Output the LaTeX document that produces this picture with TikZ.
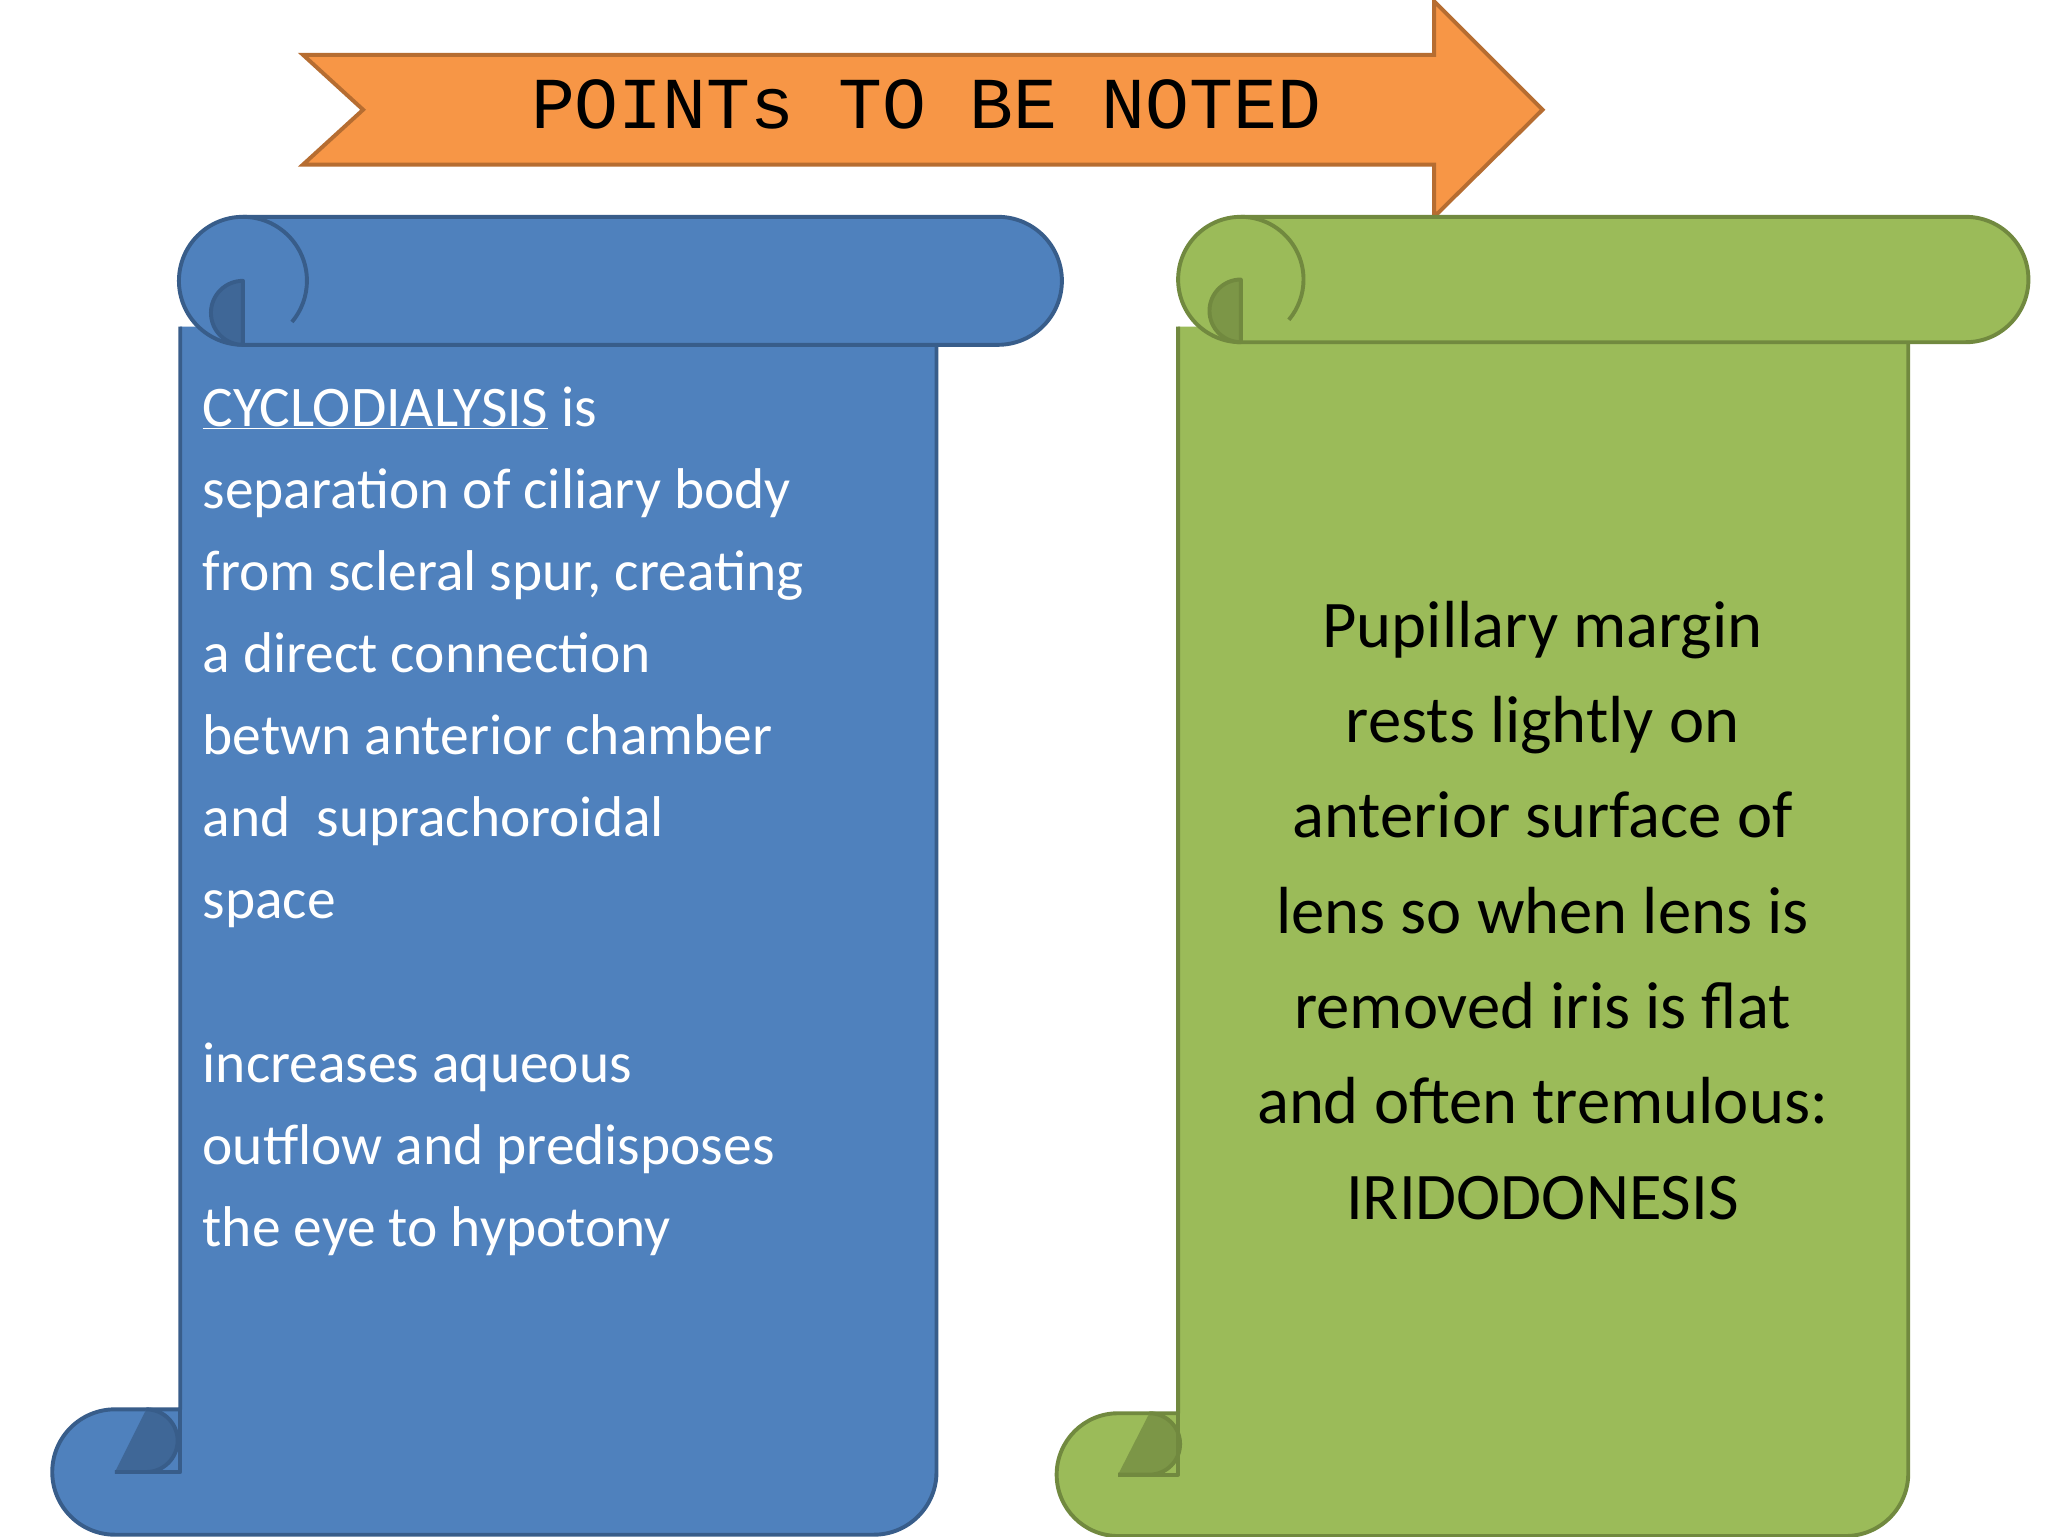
\documentclass[tikz,border=0pt]{standalone}
\usepackage{fontspec}
\setmainfont{Carlito}
\newfontfamily\monof{Liberation Mono}
\definecolor{bfill}{HTML}{4F81BD}\definecolor{bline}{HTML}{385D8A}\definecolor{bdark}{HTML}{3F6797}
\definecolor{gfill}{HTML}{9BBB59}\definecolor{gline}{HTML}{71893F}\definecolor{gdark}{HTML}{7C9647}
\definecolor{ofill}{HTML}{F79646}\definecolor{oline}{HTML}{B66D31}
\tikzset{scr/.style={line width=3pt,line join=round}}
\begin{document}
\begin{tikzpicture}[x=1pt,y=-1pt]
\useasboundingbox (0,0) rectangle (1568,1176);
\fill[white] (0,0) rectangle (1568,1176);
% arrow
\draw[fill=ofill,draw=oline,line width=3pt,line join=miter] (232,42) -- (1098,42) -- (1098,1) -- (1181,84) -- (1098,166) -- (1098,126) -- (232,126) -- (278,84) -- cycle;
\node (title) at (709,80) {\monof\fontsize{56}{60}\selectfont POINTs TO BE NOTED};
% blue scroll
\draw[scr,fill=bfill,draw=bline] (138,250) -- (138,1079) -- (88,1079) arc[start angle=-90,end angle=-270,radius=48] -- (669,1175) arc[start angle=90,end angle=0,radius=48] -- (717,250);
\fill[bfill] (140,250) rectangle (715,1077);
\draw[scr,fill=bdark,draw=bline] (112,1079) arc[start angle=-90,end angle=90,radius=24] -- (88,1127);
\draw[scr,draw=bline] (138,1079) -- (138,1127) -- (88,1127);
\draw[scr,fill=bfill,draw=bline] (186,166) -- (764,166) arc[start angle=-90,end angle=90,radius=49] -- (186,264) arc[start angle=90,end angle=270,radius=49] -- cycle;
\draw[scr,fill=bdark,draw=bline] (186,215) arc[start angle=-90,end angle=-270,radius=24.5] -- cycle;
\draw[scr,draw=bline] (186,166) arc[start angle=-90,end angle=40,radius=49];
% green scroll
\draw[scr,fill=gfill,draw=gline] (902,250) -- (902,1082) -- (856,1082) arc[start angle=-90,end angle=-270,radius=47] -- (1413,1176) arc[start angle=90,end angle=0,radius=48] -- (1461,250);
\fill[gfill] (904,250) rectangle (1459,1080);
\draw[scr,fill=gdark,draw=gline] (880,1082) arc[start angle=-90,end angle=90,radius=23.5] -- (856,1129);
\draw[scr,draw=gline] (902,1082) -- (902,1129) -- (856,1129);
\draw[scr,fill=gfill,draw=gline] (950,166) -- (1505,166) arc[start angle=-90,end angle=90,radius=48] -- (950,262) arc[start angle=90,end angle=270,radius=48] -- cycle;
\draw[scr,fill=gdark,draw=gline] (950,214) arc[start angle=-90,end angle=-270,radius=24] -- cycle;
\draw[scr,draw=gline] (950,166) arc[start angle=-90,end angle=40,radius=48];
% texts
\node[anchor=north west,align=left,text=white,inner sep=0pt,font=\fontsize{44}{62.8}\selectfont] (lt) at (155,296)
 {\underline{CYCLODIALYSIS} is\\separation of ciliary body\\from scleral spur, creating\\a direct connection\\betwn anterior chamber\\and\ \ suprachoroidal\\space\\[62.8pt]increases aqueous\\outflow and predisposes\\the eye to hypotony};
\node[align=center,inner sep=0pt,font=\fontsize{51}{73}\selectfont] (rt) at (1181,697)
 {Pupillary margin\\rests lightly on\\anterior surface of\\lens so when lens is\\removed iris is flat\\and often tremulous:\\IRIDODONESIS};
\end{tikzpicture}
\end{document}
